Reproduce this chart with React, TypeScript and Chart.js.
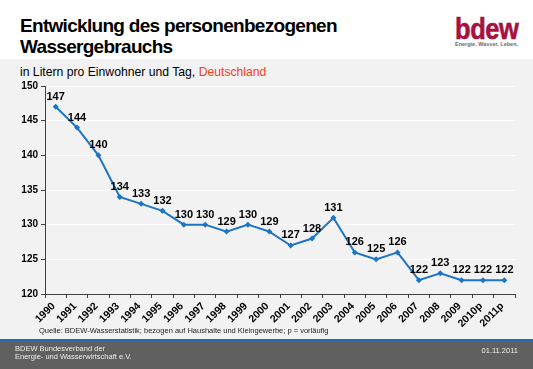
import React, { useEffect, useRef } from "react";
import { Chart, registerables } from "chart.js";

Chart.register(...registerables);

const categories = ["1990","1991","1992","1993","1994","1995","1996","1997","1998","1999","2000","2001","2002","2003","2004","2005","2006","2007","2008","2009","2010p","2011p"];
const consumption = [147,144,140,134,133,132,130,130,129,130,129,127,128,131,126,125,126,122,123,122,122,122];
const yMin = 120;
const yMax = 150;
const yStep = 5;

const FONT = '"Liberation Sans", Arial, sans-serif';
const LINE = "#1b74c6";

const labelPlugin = {
  id: "valueLabels",
  afterDatasetsDraw(chart: any) {
    const ctx = chart.ctx;
    const meta = chart.getDatasetMeta(0);
    ctx.save();
    ctx.font = `bold 11px ${FONT}`;
    ctx.fillStyle = "#000";
    ctx.textAlign = "center";
    ctx.textBaseline = "alphabetic";
    meta.data.forEach((pt: any, i: number) => {
      ctx.fillText(String(consumption[i]), pt.x, pt.y - 7);
    });
    ctx.restore();
  },
};

export default function App() {
  const ref = useRef<HTMLCanvasElement | null>(null);
  useEffect(() => {
    document.body.style.margin = "0";
    if (!ref.current) return;
    const chart = new Chart(ref.current, {
      type: "line",
      data: {
        labels: categories,
        datasets: [
          {
            data: consumption,
            borderColor: LINE,
            backgroundColor: LINE,
            borderWidth: 2,
            pointStyle: "rectRot",
            pointRadius: 3,
            pointBorderWidth: 0,
            tension: 0,
          },
        ],
      },
      options: {
        animation: false,
        responsive: false,
        devicePixelRatio: 1,
        layout: { padding: { top: 86, left: 0, right: 18, bottom: 35 } },
        plugins: { legend: { display: false }, tooltip: { enabled: false } },
        scales: {
          x: {
            offset: true,
            afterFit: (s: any) => { s.height = 40; },
            grid: { drawOnChartArea: false, tickLength: 4, tickColor: "#404040", offset: true },
            border: { color: "#404040", width: 1 },
            ticks: {
              autoSkip: false,
              maxRotation: 45,
              minRotation: 45,
              padding: 2,
              labelOffset: -2,
              color: "#000",
              font: { family: FONT, size: 10.5, weight: "bold" },
            },
          },
          y: {
            min: yMin,
            max: yMax,
            afterFit: (s: any) => { s.width = 45; },
            grid: { color: "#ffffff", lineWidth: 1, tickLength: 4, tickColor: "#404040" },
            border: { color: "#404040", width: 1 },
            ticks: {
              stepSize: yStep,
              padding: 3,
              color: "#000",
              font: { family: FONT, size: 10, weight: "bold" },
            },
          },
        },
      },
      plugins: [labelPlugin],
    });
    return () => chart.destroy();
  }, []);

  return (
    <div style={{ position: "fixed", left: 0, top: 0, width: 533, height: 369, overflow: "hidden", background: "#fff", fontFamily: FONT }}>
      <div style={{ position: "absolute", left: 0, top: 59, width: 533, height: 280, background: "#f2f2f2" }} />
      <div style={{ position: "absolute", left: 0, top: 339, width: 533, height: 3, background: "#1f6db8" }} />
      <div style={{ position: "absolute", left: 0, top: 342, width: 533, height: 27, background: "#606060" }} />
      <div style={{ position: "absolute", left: 20, top: 15.4, fontSize: 19, lineHeight: "21px", fontWeight: "bold", color: "#000", whiteSpace: "nowrap", letterSpacing: -0.7 }}>
        Entwicklung des personenbezogenen<br />Wassergebrauchs
      </div>
      <div style={{ position: "absolute", left: 455, top: 13.6, fontSize: 30, lineHeight: "30px", fontWeight: "bold", color: "#a8103e", transform: "scaleX(0.85)", transformOrigin: "left top", letterSpacing: -0.5, WebkitTextStroke: "0.6px #a8103e" }}>
        bdew
      </div>
      <div style={{ position: "absolute", left: 455, top: 41.5, fontSize: 5.5, lineHeight: "5.5px", fontWeight: "bold", color: "#6a6a6a", whiteSpace: "nowrap" }}>
        Energie. Wasser. Leben.
      </div>
      <div style={{ position: "absolute", left: 20, top: 66, fontSize: 12.2, lineHeight: "12px", color: "#000", whiteSpace: "nowrap" }}>
        in Litern pro Einwohner und Tag, <span style={{ color: "#f53d1e" }}>Deutschland</span>
      </div>
      <canvas ref={ref} width={533} height={369} style={{ position: "absolute", left: 0, top: 0, width: 533, height: 369 }} />
      <div style={{ position: "absolute", left: 39, top: 327, fontSize: 7.5, lineHeight: "7.5px", color: "#222", whiteSpace: "nowrap" }}>
        Quelle: BDEW-Wasserstatistik; bezogen auf Haushalte und Kleingewerbe; p = vorläufig
      </div>
      <div style={{ position: "absolute", left: 15, top: 345.4, fontSize: 7.5, lineHeight: "8px", color: "#ececec", whiteSpace: "nowrap" }}>
        BDEW Bundesverband der<br />Energie- und Wasserwirtschaft e.V.
      </div>
      <div style={{ position: "absolute", right: 15, top: 346.5, fontSize: 7.5, lineHeight: "8px", color: "#ececec", whiteSpace: "nowrap" }}>
        01.11.2011
      </div>
    </div>
  );
}
